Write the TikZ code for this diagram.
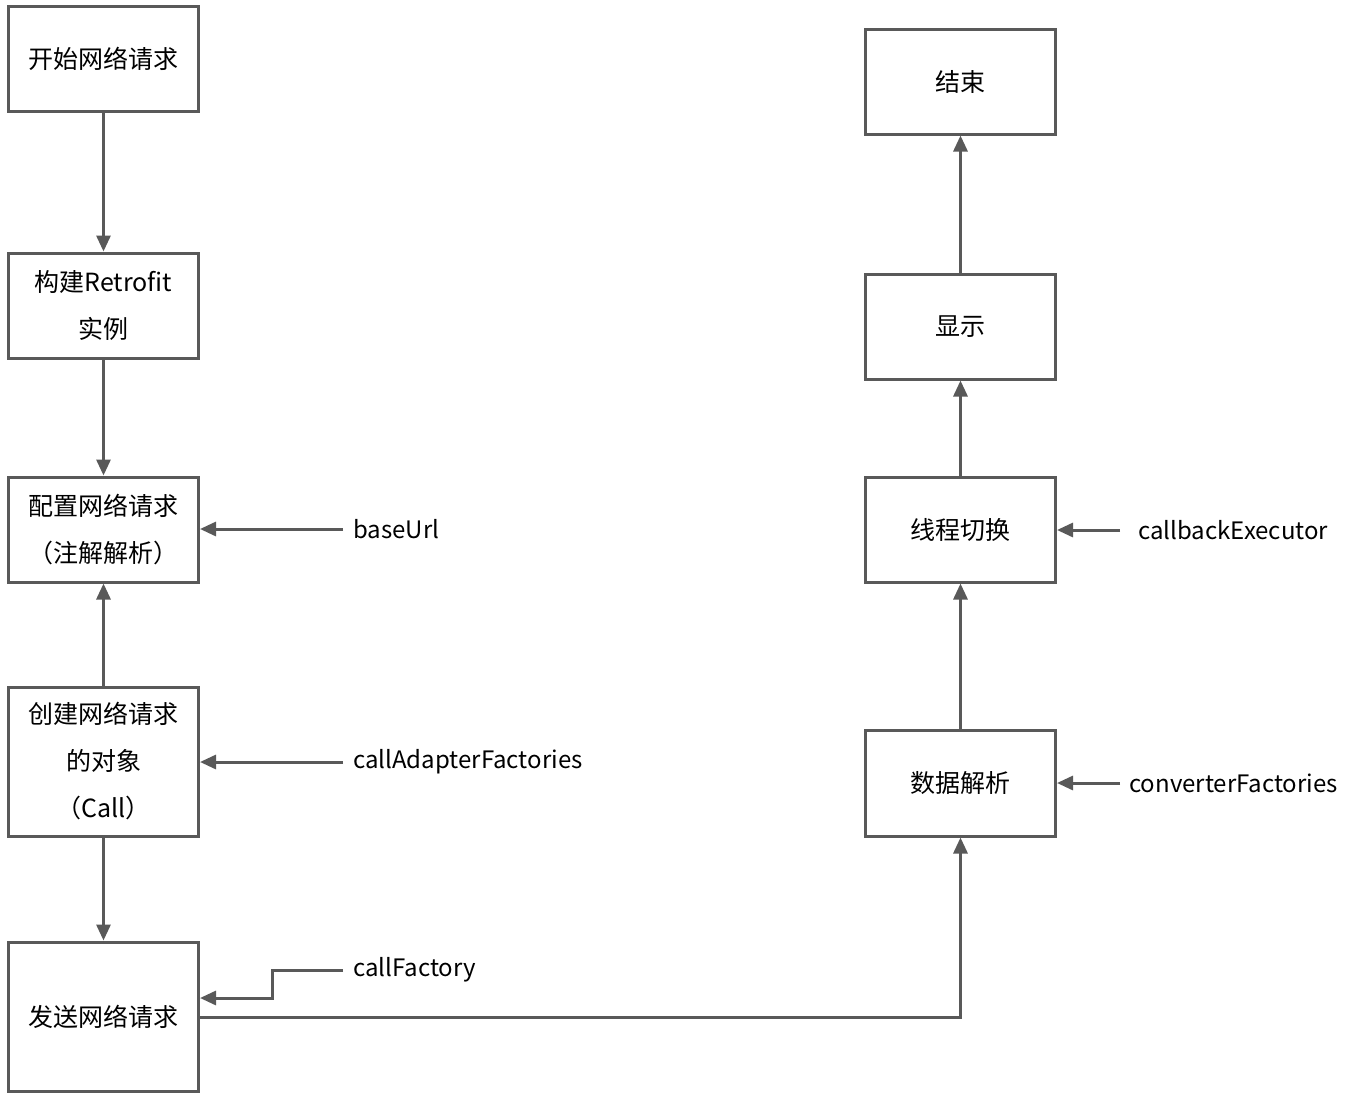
\documentclass[tikz,border=0pt]{standalone}
\usepackage{fontspec}
\setmainfont{Noto Sans CJK SC}
\usetikzlibrary{arrows.meta}
\definecolor{ln}{HTML}{595959}
\begin{document}
\begin{tikzpicture}[x=1pt,y=-1pt,
  box/.style={draw=ln,line width=3pt,minimum width=190pt,inner sep=0pt,align=center,font=\fontsize{25}{47}\selectfont},
  lab/.style={anchor=west,inner sep=0pt,font=\fontsize{24}{30}\selectfont},
  ar/.style={draw=ln,line width=3pt,-{Triangle[length=16pt,width=14pt]}}]
\useasboundingbox (0,0) rectangle (1369,1098);
\node[box,minimum height=105pt] (a) at (103.5,59) {开始网络请求};
\node[box,minimum height=105pt] (b) at (103.5,305.5) {构建Retrofit\\实例};
\node[box,minimum height=105pt] (c) at (103.5,529.5) {配置网络请求\\（注解解析）};
\node[box,minimum height=149pt] (d) at (103.5,761.5) {创建网络请求\\的对象\\（Call）};
\node[box,minimum height=149pt] (e) at (103.5,1016.5) {发送网络请求};
\node[box,minimum height=105pt] (f) at (960.5,81.5) {结束};
\node[box,minimum height=105pt] (g) at (960.5,326.5) {显示};
\node[box,minimum height=105pt] (h) at (960.5,529.5) {线程切换};
\node[box,minimum height=106pt] (i) at (960.5,783) {数据解析};
\node[lab] (l1) at (353,529) {baseUrl};
\node[lab] (l2) at (353,762) {callAdapterFactories};
\node[lab] (l3) at (353,970) {callFactory};
\node[lab] (l4) at (1138,530) {callbackExecutor};
\node[lab] (l5) at (1129,783) {converterFactories};
\coordinate (l1e) at (343,529);
\coordinate (l2e) at (343,762);
\coordinate (l3e) at (343,970);
\coordinate (l4e) at (1120,530);
\coordinate (l5e) at (1120,783);
\draw[ar] (a) -- (b);
\draw[ar] (b) -- (c);
\draw[ar] (d) -- (c);
\draw[ar] (d) -- (e);
\draw[ar] (l1e) -- (c.east|-l1e);
\draw[ar] (l2e) -- (d.east|-l2e);
\draw[ar] (l3e) -- (272,970) -- (272,998) -- (e.east|-0,998);
\draw[ar] (e.east|-0,1017) -- (960.5,1017) -- (i.south);
\draw[ar] (i) -- (h);
\draw[ar] (h) -- (g);
\draw[ar] (g) -- (f);
\draw[ar] (l4e) -- (h.east|-l4e);
\draw[ar] (l5e) -- (i.east|-l5e);
\end{tikzpicture}
\end{document}
